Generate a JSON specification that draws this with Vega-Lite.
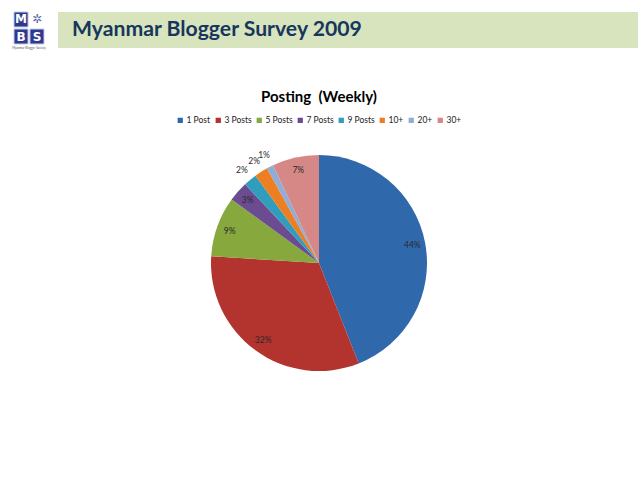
{
  "$schema": "https://vega.github.io/schema/vega-lite/v6.json",
  "description": "Myanmar Blogger Survey 2009 - Posting (Weekly) pie.",
  "background": "white",
  "padding": {"left": 12, "top": 11, "right": 0, "bottom": 0},
  "spacing": 40,
  "resolve": {"legend": {"color": "independent"}},
  "vconcat": [
    {
      "spacing": 12,
      "hconcat": [
        {
          "width": 30,
          "height": 32,
          "data": {"values": [
            {"c": "a", "r": "a", "t": "M", "box": true},
            {"c": "b", "r": "a", "t": "✲", "box": false},
            {"c": "a", "r": "b", "t": "B", "box": true},
            {"c": "b", "r": "b", "t": "S", "box": true}
          ]},
          "title": {"text": "Myanmar Blogger Society", "orient": "bottom", "fontSize": 3, "fontWeight": "normal", "color": "#555", "offset": 2},
          "encoding": {
            "x": {"field": "c", "type": "nominal", "axis": null, "scale": {"domain": ["a", "b"], "paddingInner": 0.12, "paddingOuter": 0}},
            "y": {"field": "r", "type": "nominal", "axis": null, "scale": {"domain": ["a", "b"], "paddingInner": 0.12, "paddingOuter": 0}}
          },
          "layer": [
            {
              "transform": [{"filter": "datum.box"}],
              "mark": {"type": "rect", "color": "#2E3A8F", "stroke": "#c8cbe6", "strokeWidth": 1}
            },
            {
              "mark": {"type": "text", "fontWeight": "bold", "fontSize": 12, "font": "DejaVu Sans", "baseline": "middle"},
              "encoding": {
                "text": {"field": "t"},
                "color": {"condition": {"test": "datum.box", "value": "white"}, "value": "#5B6FA6"}
              }
            }
          ]
        },
        {
          "width": 580,
          "height": 36,
          "view": {"fill": "#D7E4BD", "stroke": null},
          "data": {"values": [{"t": "Myanmar Blogger Survey 2009"}]},
          "mark": {"type": "text", "align": "left", "baseline": "middle", "dx": 14, "font": "Lato", "fontWeight": "bold", "fontSize": 21.2, "color": "#17365D"},
          "encoding": {
            "text": {"field": "t"},
            "x": {"value": 0},
            "y": {"field": "t", "type": "nominal", "axis": null}
          }
        }
      ]
    },
    {
      "width": 610,
      "height": 256,
      "title": {"text": "Posting\u00a0 (Weekly)", "font": "Lato", "fontSize": 15, "fontWeight": "bold", "color": "black", "offset": 11},
      "data": {"values": [
        {"cat": "1 Post", "pct": 0.44, "idx": 1},
        {"cat": "3 Posts", "pct": 0.32, "idx": 2},
        {"cat": "5 Posts", "pct": 0.09, "idx": 3},
        {"cat": "7 Posts", "pct": 0.03, "idx": 4},
        {"cat": "9 Posts", "pct": 0.02, "idx": 5},
        {"cat": "10+", "pct": 0.02, "idx": 6},
        {"cat": "20+", "pct": 0.01, "idx": 7},
        {"cat": "30+", "pct": 0.07, "idx": 8}
      ]},
      "encoding": {
        "theta": {"field": "pct", "type": "quantitative", "stack": true},
        "order": {"field": "idx", "type": "quantitative"}
      },
      "layer": [
        {
          "mark": {"type": "arc", "outerRadius": 108},
          "encoding": {
            "color": {
              "field": "cat",
              "type": "nominal",
              "scale": {
                "domain": ["1 Post", "3 Posts", "5 Posts", "7 Posts", "9 Posts", "10+", "20+", "30+"],
                "range": ["#3068AC", "#B3332F", "#86A83C", "#6B4C90", "#2F9DBB", "#EE7E22", "#8FADD6", "#D68886"]
              },
              "legend": {
                "orient": "top",
                "direction": "horizontal",
                "title": null,
                "symbolType": "square",
                "symbolSize": 28,
                "symbolStrokeWidth": 0,
                "labelFont": "Lato",
                "labelFontSize": 8.5,
                "labelColor": "#222",
                "labelOffset": 2,
                "columnPadding": 3,
                "offset": 10
              }
            }
          }
        },
        {
          "mark": {"type": "text", "font": "Lato", "fontSize": 8.5, "color": "#2a2a2a",
                   "radius": {"expr": "datum.pct < 0.03 ? 121 : 95"}},
          "encoding": {
            "detail": {"field": "cat"},
            "text": {"field": "pct", "type": "quantitative", "format": ".0%"}
          }
        }
      ]
    }
  ],
  "config": {
    "view": {"stroke": null},
    "font": "Lato",
    "legend": {"layout": {"top": {"anchor": "middle"}}}
  }
}
